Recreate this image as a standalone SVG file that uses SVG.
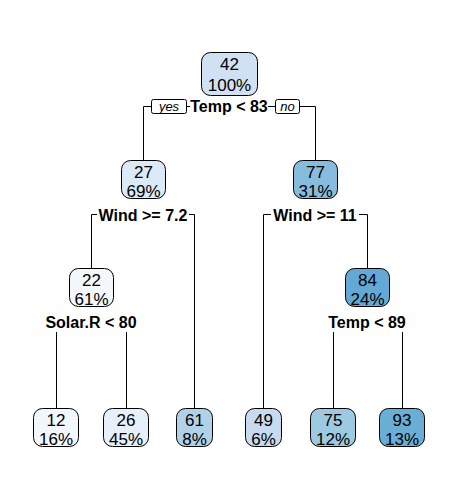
<svg xmlns="http://www.w3.org/2000/svg" width="458" height="500" viewBox="0 0 458 500">
<style>
.box{stroke:#000;stroke-width:1}
.n{font-family:"Liberation Sans",Arial,sans-serif;font-size:17px;fill:#000;text-anchor:middle}
.s{font-family:"Liberation Sans",Arial,sans-serif;font-size:16px;font-weight:bold;fill:#000;text-anchor:middle}
.yn{font-family:"Liberation Sans",Arial,sans-serif;font-size:13px;font-style:italic;fill:#000;text-anchor:middle}
.ln{stroke:#000;stroke-width:1;fill:none}
</style>
<rect width="458" height="500" fill="#fff"/>
<g id="connectors">
<polyline class="ln" points="151,106.5 143.5,106.5 143.5,160"/>
<line class="ln" x1="187" y1="106.5" x2="190" y2="106.5"/>
<line class="ln" x1="268" y1="106.5" x2="275" y2="106.5"/>
<polyline class="ln" points="300,106.5 315.5,106.5 315.5,160"/>
<polyline class="ln" points="97,214.5 91.5,214.5 91.5,268"/>
<polyline class="ln" points="189,214.5 194.5,214.5 194.5,408"/>
<polyline class="ln" points="271,214.5 263.5,214.5 263.5,408"/>
<polyline class="ln" points="359,214.5 367.5,214.5 367.5,268"/>
<line class="ln" x1="56.5" y1="332" x2="56.5" y2="408"/>
<line class="ln" x1="126.5" y1="332" x2="126.5" y2="408"/>
<line class="ln" x1="333.5" y1="332" x2="333.5" y2="408"/>
<line class="ln" x1="402.5" y1="332" x2="402.5" y2="408"/>
</g>
<g id="n1">
<rect class="box" x="201.5" y="52.5" width="56" height="43" rx="9" fill="#cfe1f2"/>
<text class="n" x="229.5" y="70">42</text>
<text class="n" x="229.5" y="91">100%</text>
<text class="s" x="229" y="112">Temp &lt; 83</text>
<rect class="box" x="151.5" y="99.5" width="35" height="14" rx="2" fill="#fff"/>
<text class="yn" x="169" y="111">yes</text>
<rect class="box" x="275.5" y="99.5" width="24" height="14" rx="2" fill="#fff"/>
<text class="yn" x="287.5" y="111">no</text>
</g>
<g id="n2">
<rect class="box" x="121.5" y="160.5" width="44" height="38" rx="9" fill="#dce9f6"/>
<text class="n" x="143.5" y="178">27</text>
<text class="n" x="143.5" y="197">69%</text>
<text class="s" x="143" y="221">Wind &gt;= 7.2</text>
</g>
<g id="n3">
<rect class="box" x="293.5" y="160.5" width="44" height="38" rx="9" fill="#87bcdd"/>
<text class="n" x="315.5" y="178">77</text>
<text class="n" x="315.5" y="197">31%</text>
<text class="s" x="315" y="221">Wind &gt;= 11</text>
</g>
<g id="n4">
<rect class="box" x="69.5" y="268.5" width="44" height="38" rx="9" fill="#f4f8fd"/>
<text class="n" x="91.5" y="286">22</text>
<text class="n" x="91.5" y="305">61%</text>
<text class="s" x="91" y="328">Solar.R &lt; 80</text>
</g>
<g id="n7">
<rect class="box" x="345.5" y="268.5" width="44" height="38" rx="9" fill="#64a9d6"/>
<text class="n" x="367.5" y="286">84</text>
<text class="n" x="367.5" y="305">24%</text>
<text class="s" x="367" y="328">Temp &lt; 89</text>
</g>
<g id="leaf12">
<rect class="box" x="33.5" y="408.5" width="45" height="38" rx="9" fill="#f2f7fd"/>
<text class="n" x="56" y="426">12</text>
<text class="n" x="56" y="445">16%</text>
</g>
<g id="leaf26">
<rect class="box" x="103.5" y="408.5" width="45" height="38" rx="9" fill="#e6f0fa"/>
<text class="n" x="126" y="426">26</text>
<text class="n" x="126" y="445">45%</text>
</g>
<g id="leaf61">
<rect class="box" x="176.5" y="408.5" width="36" height="38" rx="9" fill="#b0d1e7"/>
<text class="n" x="194.5" y="426">61</text>
<text class="n" x="194.5" y="445">8%</text>
</g>
<g id="leaf49">
<rect class="box" x="245.5" y="408.5" width="36" height="38" rx="9" fill="#c6dbef"/>
<text class="n" x="263.5" y="426">49</text>
<text class="n" x="263.5" y="445">6%</text>
</g>
<g id="leaf75">
<rect class="box" x="310.5" y="408.5" width="45" height="38" rx="9" fill="#9ecae1"/>
<text class="n" x="333" y="426">75</text>
<text class="n" x="333" y="445">12%</text>
</g>
<g id="leaf93">
<rect class="box" x="379.5" y="408.5" width="45" height="38" rx="9" fill="#6aaed6"/>
<text class="n" x="402" y="426">93</text>
<text class="n" x="402" y="445">13%</text>
</g>
</svg>
